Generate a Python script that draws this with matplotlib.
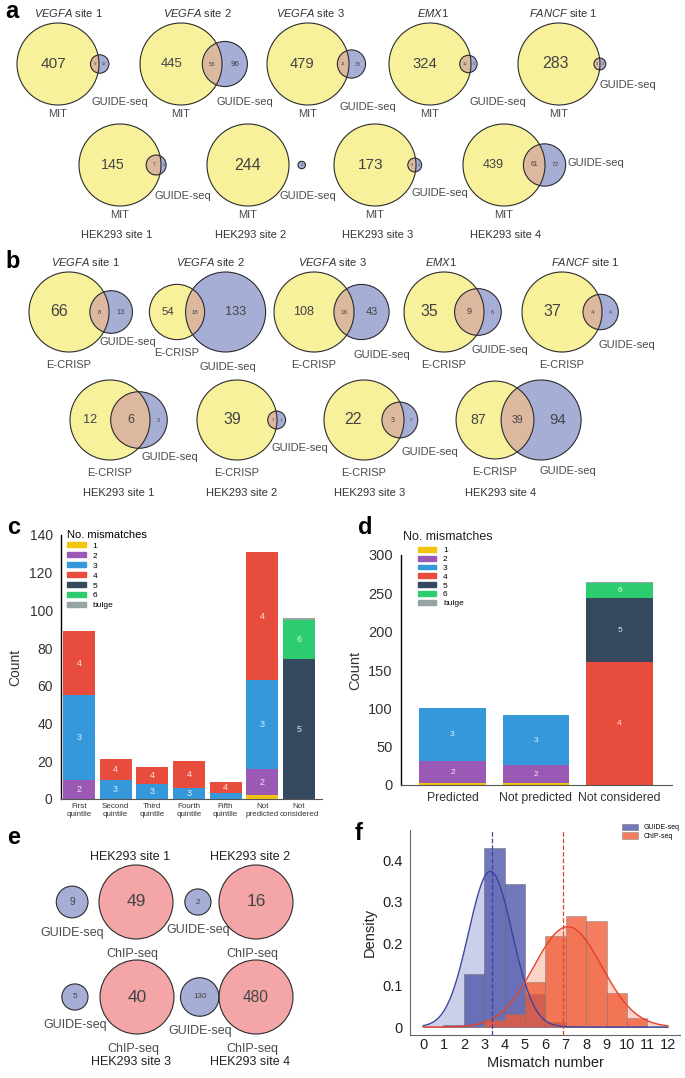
import numpy as np
import matplotlib
matplotlib.use('Agg')
import matplotlib.pyplot as plt
from matplotlib.patches import Circle, Patch

plt.rcParams['font.family'] = ['Liberation Sans', 'DejaVu Sans']
plt.rcParams['mathtext.fontset'] = 'custom'
plt.rcParams['mathtext.it'] = 'Liberation Sans:italic'
plt.rcParams['mathtext.rm'] = 'Liberation Sans'

# ---------------- data ----------------
# a: MIT prediction vs GUIDE-seq  (MIT only, shared, GUIDE-seq only)
a_titles = [r'$\it{VEGFA}$ site 1', r'$\it{VEGFA}$ site 2', r'$\it{VEGFA}$ site 3',
            r'$\it{EMX1}$', r'$\it{FANCF}$ site 1',
            'HEK293 site 1', 'HEK293 site 2', 'HEK293 site 3', 'HEK293 site 4']
a_mit_only = [407, 445, 479, 324, 283, 145, 244, 173, 439]
a_both = [9, 55, 21, 10, 3, 7, 0, 3, 61]
a_guide_only = [12, 96, 38, 5, 3, 2, 2, 2, 72]

# b: E-CRISP prediction vs GUIDE-seq
b_titles = a_titles
b_ecrisp_only = [66, 54, 108, 35, 37, 12, 39, 22, 87]
b_both = [8, 18, 16, 9, 4, 6, 1, 3, 39]
b_guide_only = [13, 133, 43, 6, 4, 3, 1, 2, 94]

# c: GUIDE-seq sites by MIT score quintile, stacked by no. mismatches
c_cats = ['First\nquintile', 'Second\nquintile', 'Third\nquintile', 'Fourth\nquintile',
          'Fifth\nquintile', 'Not\npredicted', 'Not\nconsidered']
c_mm1 = [0, 0, 0, 0, 0, 2, 0]
c_mm2 = [10, 0, 0, 0, 0, 14, 0]
c_mm3 = [45, 10, 8, 6, 3, 47, 0]
c_mm4 = [34, 11, 9, 14, 6, 68, 0]
c_mm5 = [0, 0, 0, 0, 0, 0, 74]
c_mm6 = [0, 0, 0, 0, 0, 0, 21]
c_bulge = [0, 0, 0, 0, 0, 0, 1]

# d: E-CRISP
d_cats = ['Predicted', 'Not predicted', 'Not considered']
d_mm1 = [2, 2, 0]
d_mm2 = [29, 24, 0]
d_mm3 = [70, 65, 0]
d_mm4 = [0, 0, 160]
d_mm5 = [0, 0, 84]
d_mm6 = [0, 0, 20]
d_bulge = [0, 0, 1]

mm_labels = ['1', '2', '3', '4', '5', '6', 'bulge']
mm_colors = ['#f1c40f', '#9b59b6', '#3498db', '#e74c3c', '#34495e', '#2ecc71', '#95a5a6']

# e: GUIDE-seq vs ChIP-seq (no shared sites)
e_titles = ['HEK293 site 1', 'HEK293 site 2', 'HEK293 site 3', 'HEK293 site 4']
e_guide = [9, 2, 5, 130]
e_chip = [49, 16, 40, 480]

# f: mismatch number densities (bins of width 1, left edges 0..11)
f_edges = np.arange(12)
f_guide = [0, 0.005, 0.127, 0.43, 0.342, 0.08, 0.012, 0, 0, 0, 0, 0]
f_chip = [0, 0, 0, 0.016, 0.031, 0.108, 0.217, 0.265, 0.255, 0.082, 0.021, 0]
f_mean = [3.38, 6.86]
f_fit_mu = [3.3, 7.1]
f_fit_sd = [1.07, 1.66]

# ---------------- layout (pixels, origin top-left) ----------------
a_cx = [58, 181, 308, 430, 559, 120, 248, 375, 504]
a_cy = [64] * 5 + [165] * 4
a_title_xy = [(68, 13), (197, 13), (310, 13), (433, 13), (563, 13),
              (117, 235), (251, 235), (378, 235), (506, 235)]
a_lab_off = [(62, 38), (64, 38), (60, 43), (68, 38), (69, 21), (63, 31), (60, 31), (65, 28), (92, -2)]

b_cx = [69, 177, 314, 444, 562, 110, 237, 364, 495]
b_cy = [312] * 5 + [420] * 4
b_title_xy = [(85, 262), (210, 262), (332, 262), (441, 262), (585, 262),
              (119, 493), (242, 493), (370, 493), (501, 493)]
b_lab_off = [(59, 30), (51, 55), (68, 43), (56, 38), (65, 33), (60, 37), (63, 28), (66, 32), (73, 51)]

e_cx = [136, 256, 137, 256]
e_cy = [902, 902, 997, 997]
e_gap = [11, 8, 12, 0]

YEL, BLU, LENS, PINK = '#f8f19c', '#a6aed6', '#dcb89e', '#f4a5a8'
NUMC, LABC = '#444444', '#4a4a4a'


def lens_area(d, r1, r2):
    if d >= r1 + r2:
        return 0.0
    if d <= abs(r1 - r2):
        return np.pi * min(r1, r2) ** 2
    a1 = r1 ** 2 * np.arccos((d * d + r1 * r1 - r2 * r2) / (2 * d * r1))
    a2 = r2 ** 2 * np.arccos((d * d + r2 * r2 - r1 * r1) / (2 * d * r2))
    a3 = 0.5 * np.sqrt((-d + r1 + r2) * (d + r1 - r2) * (d - r1 + r2) * (d + r1 + r2))
    return a1 + a2 - a3


def num_text(ax, x, y, n, w, fsmax=12):
    s = str(n)
    fs = np.clip(0.35 * w / (0.772 * max(len(s), 2)), 3, fsmax)
    ax.text(x, y, s, ha='center', va='center', fontsize=fs, color=NUMC, zorder=6)


def venn2(ax, cx, cy, R, n1, n12, n2, c1, c2, gap=8, anchor='left', fsmax=11.5):
    # area-proportional two-set diagram, larger set drawn with radius R
    t1, t2 = n1 + n12, n2 + n12
    big = max(t1, t2)
    r1, r2 = R * np.sqrt(t1 / big), R * np.sqrt(t2 / big)
    if n12 == 0:
        d = r1 + r2 + gap
    else:
        target = n12 / big * np.pi * R ** 2
        lo, hi = abs(r1 - r2) + 1e-6, r1 + r2
        for _ in range(60):
            mid = (lo + hi) / 2
            if lens_area(mid, r1, r2) > target:
                lo = mid
            else:
                hi = mid
        d = (lo + hi) / 2
    x1, x2 = (cx, cx + d) if anchor == 'left' else (cx - d, cx)
    left = Circle((x1, cy), r1, fc=c1, ec='none', zorder=1)
    right = Circle((x2, cy), r2, fc=c2, ec='none', zorder=2)
    ax.add_patch(left)
    ax.add_patch(right)
    if n12:
        lens = Circle((x2, cy), r2, fc=LENS, ec='none', zorder=3)
        ax.add_patch(lens)
        lens.set_clip_path(left)
    for x, r in ((x1, r1), (x2, r2)):
        ax.add_patch(Circle((x, cy), r, fc='none', ec='#2b2b2b', lw=0.8, zorder=4))
    if n12:
        L = (x1 - r1, x2 - r2)
        M = (x2 - r2, x1 + r1)
        Rr = (x1 + r1, x2 + r2)
        num_text(ax, sum(M) / 2, cy, n12, M[1] - M[0], fsmax)
    else:
        L = (x1 - r1, x1 + r1)
        Rr = (x2 - r2, x2 + r2)
    num_text(ax, sum(L) / 2, cy, n1, L[1] - L[0], fsmax)
    num_text(ax, sum(Rr) / 2, cy, n2, Rr[1] - Rr[0], fsmax)
    return x1, r1, x2, r2


fig = plt.figure(figsize=(6.85, 10.78), dpi=100)
ov = fig.add_axes([0, 0, 1, 1])
ov.set_xlim(0, 685)
ov.set_ylim(1078, 0)
ov.axis('off')

# panel a
for i in range(9):
    x1, r1, x2, r2 = venn2(ov, a_cx[i], a_cy[i], 41, a_mit_only[i], a_both[i], a_guide_only[i], YEL, BLU, gap=9)
    ov.text(*a_title_xy[i], a_titles[i], ha='center', va='center', fontsize=8, color='#333333')
    ov.text(x1, a_cy[i] + r1 + 9, 'MIT', ha='center', va='center', fontsize=8, color=LABC)
    ov.text(a_cx[i] + a_lab_off[i][0], a_cy[i] + a_lab_off[i][1], 'GUIDE-seq',
            ha='center', va='center', fontsize=8, color=LABC)

# panel b
for i in range(9):
    x1, r1, x2, r2 = venn2(ov, b_cx[i], b_cy[i], 40, b_ecrisp_only[i], b_both[i], b_guide_only[i], YEL, BLU)
    ov.text(*b_title_xy[i], b_titles[i], ha='center', va='center', fontsize=8, color='#333333')
    ov.text(x1, b_cy[i] + r1 + 13, 'E-CRISP', ha='center', va='center', fontsize=8, color=LABC)
    ov.text(b_cx[i] + b_lab_off[i][0], b_cy[i] + b_lab_off[i][1], 'GUIDE-seq',
            ha='center', va='center', fontsize=8, color=LABC)

# panel e
for i in range(4):
    x1, r1, x2, r2 = venn2(ov, e_cx[i], e_cy[i], 37, e_guide[i], 0, e_chip[i], BLU, PINK,
                           gap=e_gap[i], anchor='right', fsmax=12.5)
    ov.text(x1, e_cy[i] + r1 + 15, 'GUIDE-seq', ha='center', va='center', fontsize=9, color=LABC)
    ov.text(x2 - 4, e_cy[i] + r2 + 15, 'ChIP-seq', ha='center', va='center', fontsize=9, color=LABC)
    ty = e_cy[i] - r2 - 8 if i < 2 else e_cy[i] + r2 + 28
    ov.text(x2 - 6, ty, e_titles[i], ha='center', va='center', fontsize=9, color='#222222')

# panel letters
for lab, (x, y) in zip('abcdef', [(5, 12), (5, 262), (7, 527), (358, 527), (7, 838), (355, 833)]):
    ov.text(x, y, lab, ha='left', va='center', fontsize=17, fontweight='bold',
            family=['Liberation Sans Narrow', 'Liberation Sans'])


def stacked(ax, cats, layers, width, fs):
    x = np.arange(len(cats))
    bottom = np.zeros(len(cats))
    for vals, col, lab in zip(layers, mm_colors, mm_labels):
        vals = np.asarray(vals, float)
        ax.bar(x, vals, width, bottom=bottom, color=col, lw=0)
        for xi, v, b in zip(x, vals, bottom):
            if v >= 6:
                ax.text(xi, b + v / 2, lab, ha='center', va='center', fontsize=fs, color='white', alpha=0.85)
        bottom += vals
    ax.set_xticks(x)
    ax.set_xticklabels(cats)
    for s in ('top', 'right'):
        ax.spines[s].set_visible(False)
    ax.spines['left'].set_linewidth(1.0)
    ax.spines['bottom'].set_color('#555555')


# panel c
axc = fig.add_axes([61 / 685, 1 - 799 / 1078, (322 - 61) / 685, (799 - 535) / 1078])
stacked(axc, c_cats, [c_mm1, c_mm2, c_mm3, c_mm4, c_mm5, c_mm6, c_bulge], 0.87, 6.5)
axc.set_xlim(-0.49, 6.63)
axc.set_ylim(0, 140)
axc.set_yticks(range(0, 141, 20))
axc.tick_params(axis='y', length=0, labelsize=10, pad=6, labelcolor='#333333')
axc.tick_params(axis='x', length=0, labelsize=5.8, pad=3, labelcolor='#333333')
axc.set_ylabel('Count', fontsize=10, labelpad=5, color='#333333')
handles = [Patch(color=c) for c in mm_colors]
axc.legend(handles, mm_labels, title='No. mismatches', loc='upper left', bbox_to_anchor=(0.023, 1.02),
           frameon=False, fontsize=6, title_fontsize=8, handlelength=2.3, handleheight=0.55,
           labelspacing=0.3, handletextpad=0.8, borderaxespad=0, borderpad=0, alignment='left')

# panel d
axd = fig.add_axes([401 / 685, 1 - 785 / 1078, (672 - 401) / 685, (785 - 555) / 1078])
stacked(axd, d_cats, [d_mm1, d_mm2, d_mm3, d_mm4, d_mm5, d_mm6, d_bulge], 0.8, 6)
axd.set_xlim(-0.616, 2.628)
axd.set_ylim(0, 300)
axd.set_yticks(range(0, 301, 50))
axd.tick_params(axis='y', length=0, labelsize=10.5, pad=6, labelcolor='#333333')
axd.tick_params(axis='x', length=0, labelsize=8.8, pad=5, labelcolor='#333333')
axd.set_ylabel('Count', fontsize=10.5, labelpad=4, color='#333333')
axd.legend(handles, mm_labels, loc='upper left', bbox_to_anchor=(0.063, 1.035),
           frameon=False, fontsize=6, handlelength=2.2, handleheight=0.5,
           labelspacing=0.18, handletextpad=0.8, borderaxespad=0, borderpad=0)
axd.text(0.007, 1.05, 'No. mismatches', transform=axd.transAxes, ha='left', va='bottom',
         fontsize=9, color='#222222')

# panel f
axf = fig.add_axes([410 / 685, 1 - 1035 / 1078, (680 - 410) / 685, (1035 - 830) / 1078])
xs = np.linspace(0, 12, 400)
curves = [np.exp(-0.5 * ((xs - m) / s) ** 2) / (s * np.sqrt(2 * np.pi)) for m, s in zip(f_fit_mu, f_fit_sd)]
axf.fill_between(xs, curves[0], color='#8f96cf', alpha=0.45, lw=0, zorder=1)
axf.fill_between(xs, curves[1], color='#f7b8a2', alpha=0.6, lw=0, zorder=1)
axf.bar(f_edges, f_guide, 1, align='edge', color='#5860b0', alpha=0.85, edgecolor='#666666', lw=0.4,
        label='GUIDE-seq', zorder=2)
axf.bar(f_edges, f_chip, 1, align='edge', color='#f05a36', alpha=0.78, edgecolor='#777777', lw=0.4,
        label='ChIP-seq', zorder=3)
axf.plot(xs, curves[0], color='#3a44a0', lw=1.0, zorder=4)
axf.plot(xs, curves[1], color='#e8402a', lw=1.0, zorder=4)
axf.axvline(f_mean[0], color='#3a44a0', ls='--', lw=0.9, zorder=5)
axf.axvline(f_mean[1], color='#e8402a', ls='--', lw=0.9, zorder=5)
axf.set_xlim(-0.64, 12.6)
axf.set_ylim(-0.019, 0.472)
axf.set_xticks(range(13))
axf.set_yticks([0, 0.1, 0.2, 0.3, 0.4])
axf.set_yticklabels(['0', '0.1', '0.2', '0.3', '0.4'])
axf.tick_params(length=0, labelsize=10.5, labelcolor='#222222')
axf.tick_params(axis='y', pad=5)
axf.tick_params(axis='x', pad=2)
for s in ('top', 'right'):
    axf.spines[s].set_visible(False)
for s in ('left', 'bottom'):
    axf.spines[s].set_color('#666666')
axf.set_xlabel('Mismatch number', fontsize=10.5, labelpad=3, color='#222222')
axf.set_ylabel('Density', fontsize=10.5, labelpad=4, color='#222222')
axf.legend(loc='upper right', bbox_to_anchor=(1.0, 1.03), frameon=False, fontsize=5,
           handlelength=2.4, handleheight=1.0, labelspacing=0.15, borderaxespad=0, borderpad=0)

fig.savefig('out.png', dpi=100)
